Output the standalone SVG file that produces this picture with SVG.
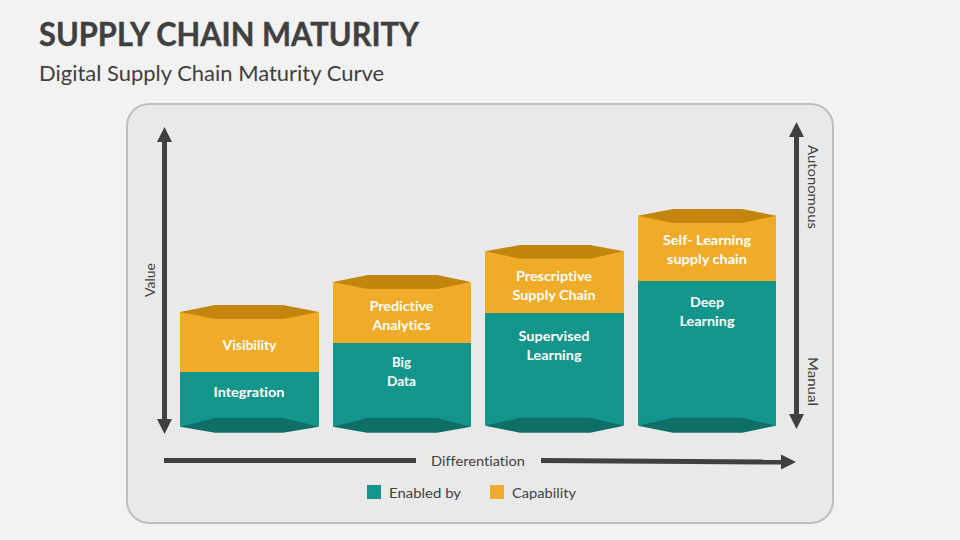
<svg xmlns="http://www.w3.org/2000/svg" width="960" height="540" viewBox="0 0 960 540">
<style>
text{font-family:"Lato","Open Sans","Liberation Sans",sans-serif;fill:#404040;font-variant-ligatures:none}
.lab{fill:#fff;font-size:14px;font-weight:700;text-anchor:middle}
.ax{font-size:14px}
.g{fill:#f0ab28}.gd{fill:#c4850e}.t{fill:#12958b}.td{fill:#0f6e68}
.c{stroke:#404040;stroke-width:5;fill:none}
</style>
<defs>
<marker id="ah" markerUnits="userSpaceOnUse" markerWidth="16" markerHeight="16" refX="0" refY="8" orient="auto-start-reverse"><path d="M0 .5L15 8L0 15.500z" fill="#404040"/></marker>
</defs>
<rect width="960" height="540" fill="#f2f2f2"/>
<rect id="panel" x="127" y="104" width="706" height="419" rx="22" fill="#e9e9e9" stroke="#bfbfbf" stroke-width="2"/>
<text x="39" y="46" font-size="32.500" font-weight="700" stroke="#404040" stroke-width=".4" textLength="380" lengthAdjust="spacingAndGlyphs">SUPPLY CHAIN MATURITY</text>
<text x="39" y="81" font-size="20.500" textLength="345" lengthAdjust="spacingAndGlyphs">Digital Supply Chain Maturity Curve</text>
<g id="connectors">
<line class="c" x1="164.500" y1="142" x2="164.500" y2="419" marker-start="url(#ah)" marker-end="url(#ah)"/>
<line class="c" x1="796.500" y1="137" x2="796.500" y2="414" marker-start="url(#ah)" marker-end="url(#ah)"/>
<line class="c" x1="164" y1="460.500" x2="416" y2="460.500"/>
<line class="c" x1="541" y1="460.500" x2="781" y2="462" marker-end="url(#ah)"/>
</g>
<g id="bar1">
<rect class="g" x="180" y="312" width="139" height="60"/><rect class="t" x="180" y="372" width="139" height="54.700"/>
<path class="gd" d="M180 312L215 305H283L319 312L283 319H215z"/>
<path class="td" d="M180 426.700L215 418H283L319 426.700L283 432.700H215z"/>
<text class="lab" x="249.500" y="350" textLength="54" lengthAdjust="spacingAndGlyphs">Visibility</text>
<text class="lab" x="249" y="396.700" textLength="71" lengthAdjust="spacingAndGlyphs">Integration</text>
</g>
<g id="bar2">
<rect class="g" x="333" y="282" width="138" height="61"/><rect class="t" x="333" y="343" width="138" height="83.700"/>
<path class="gd" d="M333 282L368 275H437L471 282L437 289H368z"/>
<path class="td" d="M333 426.700L367 418H437L471 426.700L437 432.700H367z"/>
<text class="lab" x="401.500" y="311" textLength="64" lengthAdjust="spacingAndGlyphs">Predictive</text>
<text class="lab" x="401.500" y="330" textLength="58" lengthAdjust="spacingAndGlyphs">Analytics</text>
<text class="lab" x="401.500" y="367" textLength="19" lengthAdjust="spacingAndGlyphs">Big</text>
<text class="lab" x="401.500" y="386" textLength="29" lengthAdjust="spacingAndGlyphs">Data</text>
</g>
<g id="bar3">
<rect class="g" x="485" y="251.300" width="139" height="61.700"/><rect class="t" x="485" y="313" width="139" height="112.700"/>
<path class="gd" d="M485 251.300L520 245H590L624 251.300L590 258.700H520z"/>
<path class="td" d="M485 425.700L520 417.700H590L624 425.700L590 432.700H520z"/>
<text class="lab" x="554" y="281" textLength="76" lengthAdjust="spacingAndGlyphs">Prescriptive</text>
<text class="lab" x="554" y="300" textLength="83" lengthAdjust="spacingAndGlyphs">Supply Chain</text>
<text class="lab" x="554" y="341" textLength="71" lengthAdjust="spacingAndGlyphs">Supervised</text>
<text class="lab" x="554" y="360" textLength="55" lengthAdjust="spacingAndGlyphs">Learning</text>
</g>
<g id="bar4">
<rect class="g" x="638" y="215.700" width="138" height="65.300"/><rect class="t" x="638" y="281" width="138" height="144.700"/>
<path class="gd" d="M638 215.700L673 209H742L776 215.700L742 223H673z"/>
<path class="td" d="M638 425.700L673 417.700H742L776 425.700L742 432.700H673z"/>
<text class="lab" x="707" y="245" textLength="88" lengthAdjust="spacingAndGlyphs">Self- Learning</text>
<text class="lab" x="707" y="264" textLength="80" lengthAdjust="spacingAndGlyphs">supply chain</text>
<text class="lab" x="707" y="307" textLength="34" lengthAdjust="spacingAndGlyphs">Deep</text>
<text class="lab" x="707" y="326" textLength="55" lengthAdjust="spacingAndGlyphs">Learning</text>
</g>
<g id="axis-labels">
<text class="ax" transform="translate(155 297) rotate(-90)" textLength="34" lengthAdjust="spacingAndGlyphs">Value</text>
<text class="ax" transform="translate(808 145) rotate(90)" textLength="84" lengthAdjust="spacingAndGlyphs">Autonomous</text>
<text class="ax" transform="translate(808 357) rotate(90)" textLength="49" lengthAdjust="spacingAndGlyphs">Manual</text>
<text class="ax" x="431" y="466" textLength="94" lengthAdjust="spacingAndGlyphs">Differentiation</text>
</g>
<g id="legend">
<rect class="t" x="367" y="485" width="14" height="14"/>
<text class="ax" x="389" y="498" textLength="72" lengthAdjust="spacingAndGlyphs">Enabled by</text>
<rect class="g" x="490" y="485" width="14" height="14"/>
<text class="ax" x="512" y="498" textLength="64" lengthAdjust="spacingAndGlyphs">Capability</text>
</g>
</svg>
